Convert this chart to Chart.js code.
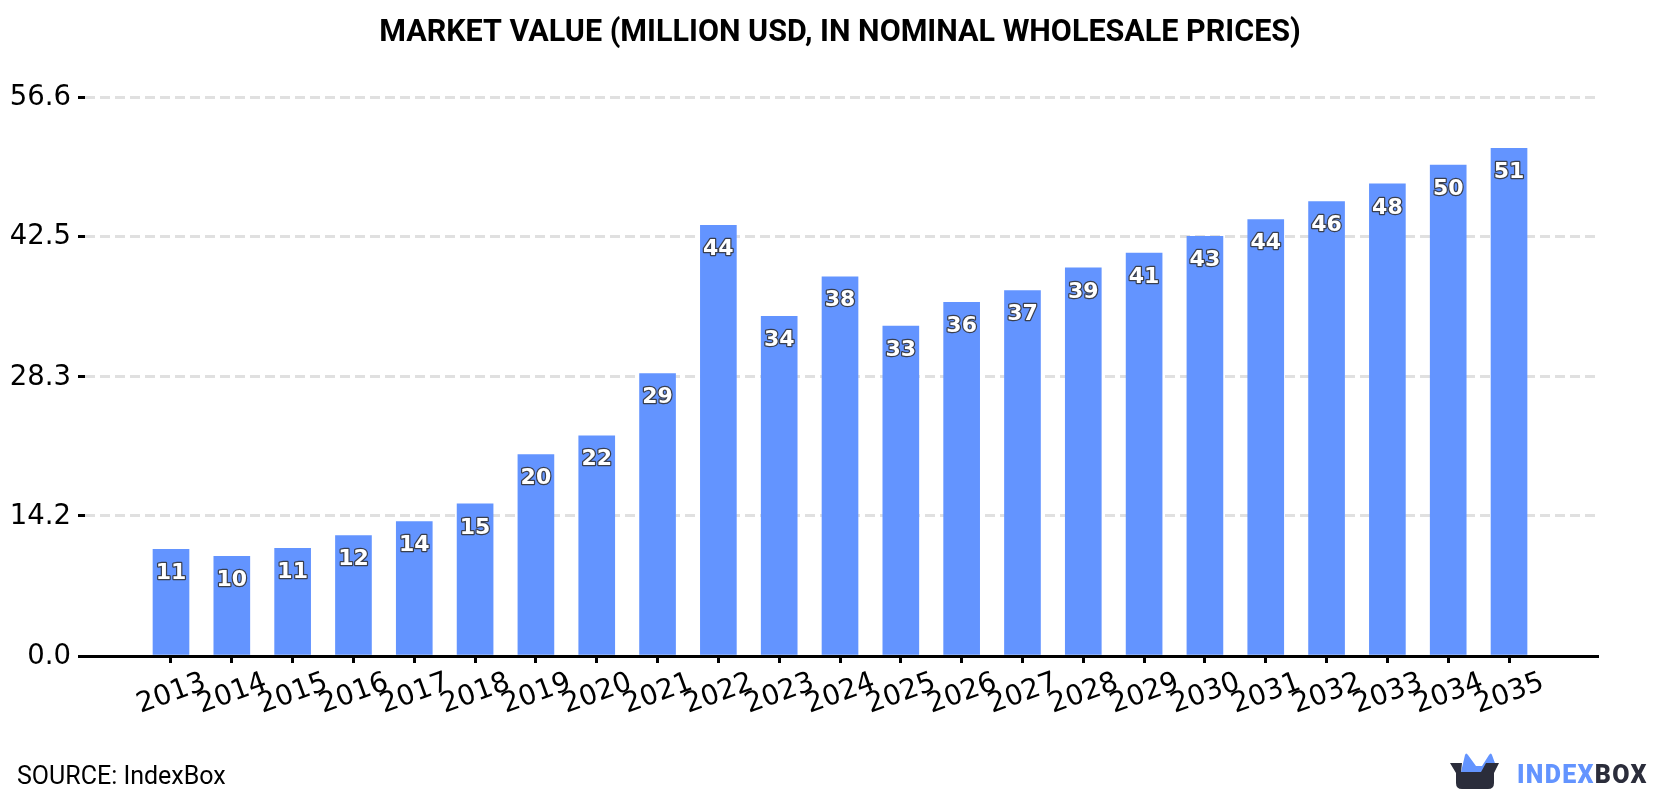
<!DOCTYPE html>
<html>
<head>
    <title>Market Value</title>
    <script src="https://cdn.jsdelivr.net/npm/chart.js"></script>
    <style>
        body { margin: 0; background: #fff; }
        canvas { display: block; }
    </style>
</head>
<body>
    <canvas id="marketChart" width="1680" height="800"></canvas>
    <script>
        const years = [2013, 2014, 2015, 2016, 2017, 2018, 2019, 2020, 2021, 2022, 2023, 2024,
            2025, 2026, 2027, 2028, 2029, 2030, 2031, 2032, 2033, 2034, 2035];
        const marketValues = [10.8, 10.1, 10.9, 12.2, 13.6, 15.4, 20.4, 22.3, 28.6, 43.6, 34.4, 38.4,
            33.4, 35.8, 37.0, 39.3, 40.8, 42.5, 44.2, 46.0, 47.8, 49.7, 51.4];
        const yTicks = [0, 14.2, 28.3, 42.5, 56.6];

        const chartTitle = 'MARKET VALUE (MILLION USD, IN NOMINAL WHOLESALE PRICES)';
        const sourceText = 'SOURCE: IndexBox';

        const BLUE = '#6394ff';
        const DARK = '#2b2d3b';

        // Value labels inside the top of each bar, white with a dark outline
        const barLabels = {
            id: 'barLabels',
            afterDatasetsDraw(chart) {
                const ctx = chart.ctx;
                ctx.save();
                ctx.font = 'bold 22px "DejaVu Sans"';
                ctx.textAlign = 'center';
                ctx.textBaseline = 'middle';
                ctx.lineJoin = 'round';
                chart.getDatasetMeta(0).data.forEach((bar, i) => {
                    const text = String(Math.round(marketValues[i]));
                    ctx.lineWidth = 2.5;
                    ctx.strokeStyle = '#3a3f4d';
                    ctx.strokeText(text, bar.x, bar.y + 24);
                    ctx.fillStyle = '#fff';
                    ctx.fillText(text, bar.x, bar.y + 24);
                });
                ctx.restore();
            }
        };

        // Title on top, source line and logo along the bottom edge
        const captions = {
            id: 'captions',
            afterDraw(chart) {
                const ctx = chart.ctx;
                ctx.save();
                ctx.fillStyle = '#000';
                ctx.font = 'bold 30.5px Roboto';
                ctx.textAlign = 'center';
                ctx.textBaseline = 'middle';
                ctx.fillText(chartTitle, 840, 33);

                ctx.textAlign = 'left';
                ctx.textBaseline = 'alphabetic';
                ctx.font = '25px Roboto';
                ctx.fillText(sourceText, 17, 784);

                ctx.fillStyle = BLUE;
                ctx.fill(new Path2D('M1461 772 L1465 755 Q1466 752 1468 755 L1476 766 L1482 766 L1489 755 Q1491 752 1492 755 L1496 766 L1485 772 L1481 778 L1461 778 Z'));
                ctx.fillStyle = DARK;
                ctx.fill(new Path2D('M1450 763 L1462 763 L1461 772 L1481 772 L1486 763 L1499 763 L1494 773 L1494 783 Q1494 789 1488 789 L1462 789 Q1456 789 1456 783 L1456 773 Z'));

                ctx.font = '900 25px Roboto';
                ctx.letterSpacing = '1.3px';
                ctx.fillStyle = BLUE;
                ctx.fillText('INDEX', 1517, 783);
                const w = ctx.measureText('INDEX').width;
                ctx.fillStyle = DARK;
                ctx.fillText('BOX', 1517 + w, 783);
                ctx.restore();
            }
        };

        new Chart(document.getElementById('marketChart').getContext('2d'), {
            type: 'bar',
            data: {
                datasets: [{
                    data: years.map((year, i) => ({ x: year, y: marketValues[i] })),
                    backgroundColor: BLUE,
                    barThickness: 36
                }]
            },
            options: {
                responsive: false,
                animation: false,
                layout: { padding: { top: 97, right: 82 } },
                plugins: {
                    legend: { display: false },
                    tooltip: { enabled: false },
                    title: { display: false }
                },
                scales: {
                    x: {
                        type: 'linear',
                        offset: false,
                        min: 2011.586,
                        max: 2036.463,
                        afterBuildTicks(scale) { scale.ticks = years.map(value => ({ value })); },
                        afterFit(scale) { scale.height = 144; },
                        border: { color: '#000', width: 3 },
                        grid: { offset: false, drawOnChartArea: false, tickColor: '#000', tickWidth: 3, tickLength: 7 },
                        ticks: {
                            autoSkip: false,
                            minRotation: 20,
                            maxRotation: 20,
                            labelOffset: 34,
                            padding: 3,
                            color: '#000',
                            font: { family: 'DejaVu Sans', size: 28 },
                            callback: value => String(value)
                        }
                    },
                    y: {
                        min: 0,
                        max: 56.6,
                        afterBuildTicks(scale) { scale.ticks = yTicks.map(value => ({ value })); },
                        afterFit(scale) { scale.width = 85; },
                        border: { display: false, dash: [10, 5] },
                        grid: {
                            color: '#e0e0e0',
                            lineWidth: 3,
                            tickColor: '#000',
                            tickWidth: 3,
                            tickLength: 7,
                            tickBorderDash: []
                        },
                        ticks: {
                            padding: 7,
                            labelOffset: 1,
                            color: '#000',
                            font: { family: 'DejaVu Sans', size: 27.5 },
                            callback: value => value.toFixed(1)
                        }
                    }
                }
            },
            plugins: [barLabels, captions]
        });
    </script>
</body>
</html>
